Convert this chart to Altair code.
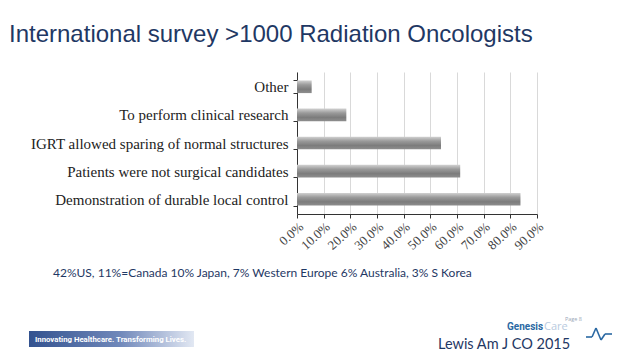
import altair as alt
import pandas as pd

# ---- data ----
reasons = [
    "Other",
    "To perform clinical research",
    "IGRT allowed sparing of normal structures",
    "Patients were not surgical candidates",
    "Demonstration of durable local control",
]
shares = [0.055, 0.185, 0.54, 0.612, 0.838]
x_ticks = [0.0, 0.1, 0.2, 0.3, 0.4, 0.5, 0.6, 0.7, 0.8, 0.9]

title_text = "International survey >1000 Radiation Oncologists"
note_text = "42%US, 11%=Canada 10% Japan, 7% Western Europe 6% Australia, 3% S Korea"
banner_text = "Innovating Healthcare. Transforming Lives."
cite_text = "Lewis Am J CO  2015"
logo_a = "Genesis"
logo_b = "Care"
page_text = "Page 8"

NAVY = "#1f3864"
LOGO = "#2b69a3"

df = pd.DataFrame({"reason": reasons, "share": shares})

bar_grad = alt.Gradient(
    gradient="linear",
    x1=0, x2=0, y1=0, y2=1,
    stops=[
        alt.GradientStop(color="#d2d2d2", offset=0),
        alt.GradientStop(color="#9a9a9a", offset=0.35),
        alt.GradientStop(color="#7c7c7c", offset=0.7),
        alt.GradientStop(color="#8e8e8e", offset=1),
    ],
)

bars = alt.Chart(df).mark_bar(color=bar_grad).encode(
    x=alt.X(
        "share:Q",
        scale=alt.Scale(domain=[0, 0.9], nice=False),
        axis=alt.Axis(
            values=x_ticks,
            format=".1%",
            labelAngle=-42,
            labelAlign="right",
            labelBaseline="top",
            labelFont="Liberation Serif",
            labelFontSize=13,
            labelColor="#444",
            labelPadding=2,
            labelOverlap=False,
            labelBound=False,
            tickSize=4,
            tickColor="#333",
            domainColor="#333",
            grid=True,
            gridColor="#d9d9d9",
            title=None,
        ),
    ),
    y=alt.Y(
        "reason:N",
        sort=reasons,
        scale=alt.Scale(paddingInner=0.55, paddingOuter=0.3),
        axis=alt.Axis(
            labelFont="Liberation Serif",
            labelFontSize=15,
            labelColor="#222",
            labelPadding=5,
            labelLimit=400,
            tickBand="extent",
            tickSize=4,
            tickColor="#333",
            domainColor="#333",
            grid=False,
            title=None,
        ),
    ),
)


def label(text, x, y, size, color, font, weight="normal", baseline="alphabetic"):
    return alt.Chart(pd.DataFrame({"t": [text]})).mark_text(
        align="left",
        baseline=baseline,
        fontSize=size,
        font=font,
        fontWeight=weight,
        color=color,
    ).encode(text="t:N", x=alt.value(x), y=alt.value(y))


def seg(x1, y1, x2, y2):
    return alt.Chart(pd.DataFrame({"t": [0]})).mark_rule(color=LOGO, strokeWidth=1.6).encode(
        x=alt.value(x1), y=alt.value(y1), x2=alt.value(x2), y2=alt.value(y2)
    )


title = label(title_text, -288, -30, 24, NAVY, "Liberation Sans")
note = label(note_text, -244, 201, 12, NAVY, "Lato", baseline="middle")

banner_grad = alt.Gradient(
    gradient="linear",
    x1=0, x2=1, y1=0, y2=0,
    stops=[
        alt.GradientStop(color="#33528f", offset=0),
        alt.GradientStop(color="#7088ba", offset=0.55),
        alt.GradientStop(color="#e2e8f3", offset=1),
    ],
)
banner = alt.Chart(pd.DataFrame({"t": [banner_text]})).mark_rect(color=banner_grad).encode(
    x=alt.value(-268), x2=alt.value(-103), y=alt.value(259), y2=alt.value(275)
)
banner_txt = label(banner_text, -262, 267.5, 7.8, "white", "Roboto", weight="bold", baseline="middle")

cite = label(cite_text, 141, 277, 14.5, NAVY, "Lato")
logo1 = label(logo_a, 210, 258, 10, LOGO, "Roboto", weight="bold")
logo2 = label(logo_b, 247, 258, 11, "#b9cbe0", "Open Sans")
page = label(page_text, 268, 249, 5.5, "#9aa7b8", "Open Sans")

pulse = [
    seg(289, 265, 295, 265),
    seg(295, 265, 299, 256),
    seg(299, 256, 304, 268),
    seg(304, 268, 308, 262),
    seg(308, 262, 315, 262),
]

chart = alt.layer(
    bars, title, note, banner, banner_txt, cite, logo1, logo2, page, *pulse
).properties(
    width=240,
    height=142,
    autosize=alt.AutoSizeParams(type="none"),
    padding={"left": 289, "top": 64, "right": 93, "bottom": 137},
    background="white",
).configure_view(stroke=None)

chart.save("out.html", embed_options={"renderer": "svg", "actions": False})
